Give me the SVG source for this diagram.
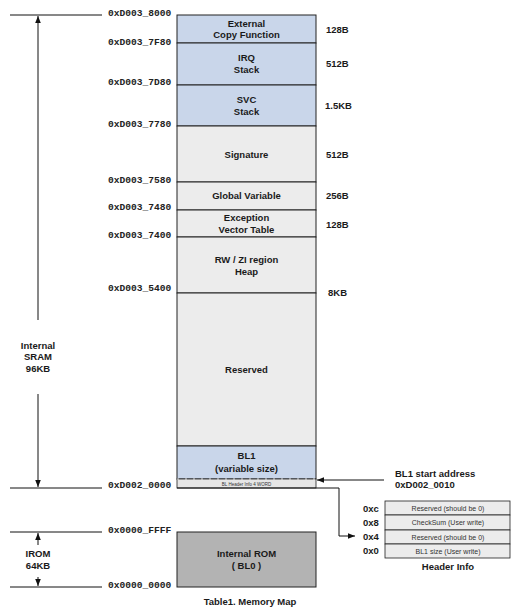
<svg xmlns="http://www.w3.org/2000/svg" width="516" height="613" viewBox="0 0 516 613">
<defs>
<style>
.lbl{font-family:"Liberation Sans",Arial,sans-serif;font-weight:bold;font-size:9.5px;fill:#1a1a1a;text-anchor:middle}
.sz{font-family:"Liberation Sans",Arial,sans-serif;font-weight:bold;font-size:9.5px;fill:#1a1a1a}
.addr{font-family:"Liberation Mono","Courier New",monospace;font-size:9.6px;fill:#222;font-weight:bold}
.hdr{font-family:"Liberation Sans",Arial,sans-serif;font-size:7px;fill:#333;text-anchor:middle}
.blue{fill:#c9d6ea;stroke:#222;stroke-width:1}
.gray{fill:#ececec;stroke:#222;stroke-width:1}
.ln{stroke:#111;stroke-width:1;fill:none}
</style>
<marker id="ah" viewBox="0 0 10 10" refX="10" refY="5" markerWidth="7" markerHeight="7" orient="auto-start-reverse" markerUnits="userSpaceOnUse">
<path d="M0,1 L10,5 L0,9 z" fill="#111"/>
</marker>
</defs>
<rect width="516" height="613" fill="#fff"/>

<g id="external-copy"><rect class="blue" x="177" y="15" width="139" height="28"/><text class="lbl" x="246.5" y="27">External</text><text class="lbl" x="246.5" y="38">Copy Function</text></g>
<g id="irq-stack"><rect class="blue" x="177" y="43" width="139" height="42"/><text class="lbl" x="246.5" y="61">IRQ</text><text class="lbl" x="246.5" y="73">Stack</text></g>
<g id="svc-stack"><rect class="blue" x="177" y="85" width="139" height="41"/><text class="lbl" x="246.5" y="103">SVC</text><text class="lbl" x="246.5" y="115">Stack</text></g>
<g id="signature"><rect class="gray" x="177" y="126" width="139" height="56"/><text class="lbl" x="246.5" y="158">Signature</text></g>
<g id="global-variable"><rect class="gray" x="177" y="182" width="139" height="28"/><text class="lbl" x="246.5" y="199">Global Variable</text></g>
<g id="exception-vector"><rect class="gray" x="177" y="210" width="139" height="27"/><text class="lbl" x="246.5" y="221">Exception</text><text class="lbl" x="246.5" y="233">Vector Table</text></g>
<g id="rw-zi-heap"><rect class="gray" x="177" y="237" width="139" height="56"/><text class="lbl" x="246.5" y="263">RW / ZI region</text><text class="lbl" x="246.5" y="275">Heap</text></g>
<g id="reserved"><rect class="gray" x="177" y="293" width="139" height="153"/><text class="lbl" x="246.5" y="373">Reserved</text></g>
<g id="bl1"><rect class="blue" x="177" y="446" width="139" height="33"/><text class="lbl" x="246.5" y="459">BL1</text><text class="lbl" x="246.5" y="472">(variable size)</text></g>
<g id="bl-header-band"><rect x="177" y="479" width="139" height="9" fill="#e6e6e6" stroke="#222" stroke-width="0.8"/><line x1="177" y1="479" x2="316" y2="479" stroke="#fff" stroke-width="0.8" stroke-dasharray="2,6"/><text x="246.5" y="485.5" font-family="Liberation Sans, Arial, sans-serif" font-size="4.5" fill="#333" text-anchor="middle">BL Header Info 4 WORD</text></g>
<g id="internal-rom"><rect x="177" y="532" width="139" height="55" fill="#b3b3b3" stroke="#222" stroke-width="1"/><text class="lbl" x="246.5" y="557">Internal ROM</text><text class="lbl" x="246.5" y="569">( BL0 )</text></g>

<g id="addresses">
<text class="addr" x="108" y="16">0xD003_8000</text>
<text class="addr" x="108" y="45">0xD003_7F80</text>
<text class="addr" x="108" y="85">0xD003_7D80</text>
<text class="addr" x="108" y="127">0xD003_7780</text>
<text class="addr" x="108" y="183">0xD003_7580</text>
<text class="addr" x="108" y="210">0xD003_7480</text>
<text class="addr" x="108" y="238">0xD003_7400</text>
<text class="addr" x="108" y="291">0xD003_5400</text>
<text class="addr" x="108" y="488">0xD002_0000</text>
<text class="addr" x="108" y="533">0x0000_FFFF</text>
<text class="addr" x="108" y="588">0x0000_0000</text>
</g>

<g id="sizes">
<text class="sz" x="326" y="33">128B</text>
<text class="sz" x="326" y="67">512B</text>
<text class="sz" x="325" y="109">1.5KB</text>
<text class="sz" x="326" y="158">512B</text>
<text class="sz" x="326" y="199">256B</text>
<text class="sz" x="326" y="228">128B</text>
<text class="sz" x="328" y="296">8KB</text>
</g>

<g id="sram-label">
<text class="lbl" x="38" y="349">Internal</text>
<text class="lbl" x="38" y="360">SRAM</text>
<text class="lbl" x="38" y="372">96KB</text>
</g>
<g id="irom-label">
<text class="lbl" x="38" y="557">IROM</text>
<text class="lbl" x="38" y="569">64KB</text>
</g>

<g id="header-info">
<rect x="385" y="501" width="125" height="14" fill="#ececec" stroke="#222" stroke-width="0.8"/>
<rect x="385" y="515" width="125" height="15" fill="#ececec" stroke="#222" stroke-width="0.8"/>
<rect x="385" y="530" width="125" height="14" fill="#ececec" stroke="#222" stroke-width="0.8"/>
<rect x="385" y="544" width="125" height="14" fill="#ececec" stroke="#222" stroke-width="0.8"/>
<text class="hdr" x="448" y="510.5">Reserved (should be 0)</text>
<text class="hdr" x="448" y="524.5">CheckSum (User write)</text>
<text class="hdr" x="448" y="539.5">Reserved (should be 0)</text>
<text class="hdr" x="448" y="553.5">BL1 size (User write)</text>
<text class="sz" x="363" y="512">0xc</text>
<text class="sz" x="363" y="526">0x8</text>
<text class="sz" x="363" y="540">0x4</text>
<text class="sz" x="363" y="554">0x0</text>
<text class="lbl" x="448" y="570">Header Info</text>
</g>

<g id="bl1-start">
<text class="sz" x="395" y="477">BL1 start address</text>
<text class="sz" x="395" y="488">0xD002_0010</text>
</g>

<text class="lbl" x="250" y="605">Table1. Memory Map</text>

<g id="connectors">
<line class="ln" x1="10" y1="15" x2="102" y2="15"/>
<line class="ln" x1="10" y1="488" x2="102" y2="488"/>
<line class="ln" x1="177" y1="488" x2="339" y2="488"/>
<line class="ln" x1="10" y1="532" x2="102" y2="532"/>
<line class="ln" x1="10" y1="587" x2="102" y2="587"/>
<line class="ln" x1="38" y1="320" x2="38" y2="16" marker-end="url(#ah)"/>
<line class="ln" x1="38" y1="394" x2="38" y2="487" marker-end="url(#ah)"/>
<line class="ln" x1="38" y1="545" x2="38" y2="533" marker-end="url(#ah)"/>
<line class="ln" x1="38" y1="577" x2="38" y2="586" marker-end="url(#ah)"/>
<line class="ln" x1="384" y1="480" x2="317" y2="480" marker-end="url(#ah)"/>
<polyline class="ln" points="339,488 339,536 355,536" marker-end="url(#ah)"/>
</g>
</svg>
